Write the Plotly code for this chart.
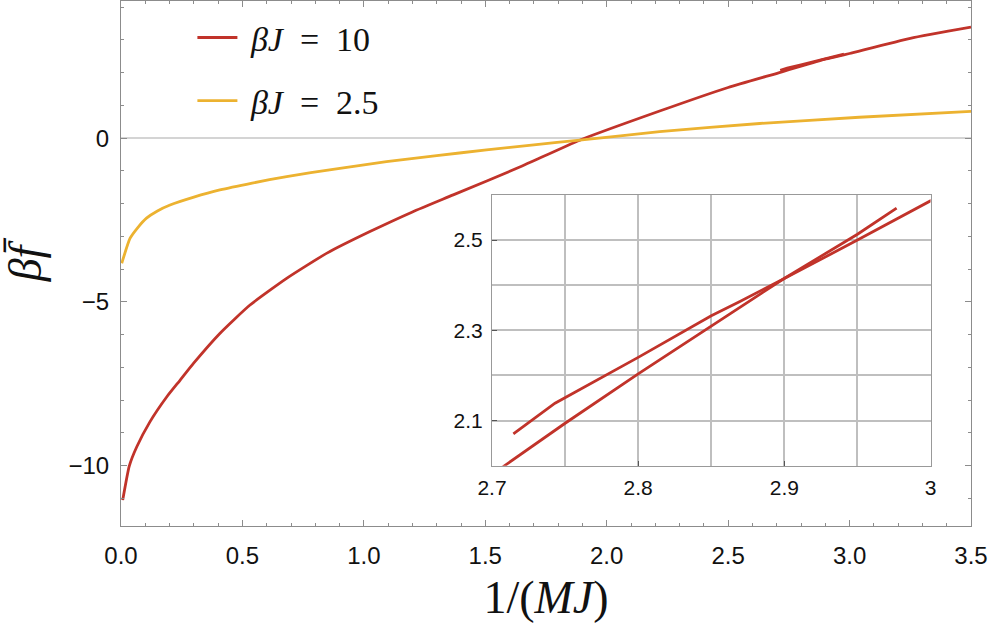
import plotly.graph_objects as go

# ---- data ----
red_x = [0.007, 0.034, 0.065, 0.119, 0.188, 0.243, 0.30, 0.407, 0.53, 0.682, 0.85, 1.025,
         1.2, 1.368, 1.642, 1.889, 2.218, 2.5, 2.7077, 2.75, 2.80, 2.85, 2.8696, 2.8993,
         2.95, 3.0, 3.25, 3.5]
red_y = [-11.05, -10.01, -9.42, -8.66, -7.90, -7.39, -6.86, -5.96, -5.10, -4.28, -3.50, -2.85,
         -2.25, -1.73, -0.88, -0.06, 0.83, 1.55, 1.998, 2.094, 2.2034, 2.310, 2.351, 2.4138,
         2.500, 2.587, 3.05, 3.39]

red_alt_x = [2.7146, 2.7431, 2.80, 2.85, 2.8696, 2.8993, 2.95, 2.9768]
red_alt_y = [2.0706, 2.1385, 2.240, 2.3325, 2.364, 2.4138, 2.513, 2.571]

yel_x = [0.003, 0.037, 0.07, 0.105, 0.15, 0.202, 0.30, 0.407, 0.54, 0.682, 0.88, 1.093,
         1.3, 1.505, 1.70, 1.889, 2.218, 2.63, 3.04, 3.5]
yel_y = [-3.82, -3.06, -2.72, -2.44, -2.22, -2.04, -1.80, -1.58, -1.37, -1.17, -0.94, -0.715,
         -0.53, -0.357, -0.20, -0.06, 0.20, 0.45, 0.64, 0.82]

main_xticks = [0.0, 0.5, 1.0, 1.5, 2.0, 2.5, 3.0, 3.5]
main_yticks = [-10, -5, 0]
inset_xticks = [2.7, 2.8, 2.9, 3.0]
inset_yticks = [2.1, 2.3, 2.5]

RED = "#C1332A"
YEL = "#ECB230"
SERIF = "Liberation Serif, DejaVu Serif, serif"
SANS = "Liberation Sans, Arial, sans-serif"
NB = "\u00a0"

fig = go.Figure()

fig.add_trace(go.Scatter(x=red_x, y=red_y, mode="lines",
                         line=dict(color=RED, width=2.8, shape="spline", smoothing=0.5),
                         name=NB + "<i>βJ</i>" + NB * 2 + "=" + NB * 2 + "10", legendgroup="a",
                         xaxis="x", yaxis="y"))
fig.add_trace(go.Scatter(x=red_alt_x, y=red_alt_y, mode="lines", line=dict(color=RED, width=2.8),
                         showlegend=False, xaxis="x", yaxis="y"))
fig.add_trace(go.Scatter(x=yel_x, y=yel_y, mode="lines",
                         line=dict(color=YEL, width=2.8, shape="spline", smoothing=0.5),
                         name=NB + "<i>βJ</i>" + NB * 2 + "=" + NB * 2 + "2.5", legendgroup="b",
                         xaxis="x", yaxis="y"))

# inset
fig.add_trace(go.Scatter(x=red_x, y=red_y, mode="lines", line=dict(color=RED, width=2.8),
                         showlegend=False, xaxis="x2", yaxis="y2"))
fig.add_trace(go.Scatter(x=red_alt_x, y=red_alt_y, mode="lines", line=dict(color=RED, width=2.8),
                         showlegend=False, xaxis="x2", yaxis="y2"))

AX = "#8c8c8c"
GRID = "#bfbfbf"
fig.update_layout(
    width=990, height=626,
    margin=dict(l=121, r=19, t=1, b=100),
    paper_bgcolor="white", plot_bgcolor="white",
    showlegend=True,
    legend=dict(x=0.084, y=0.985, xanchor="left", yanchor="top",
                font=dict(family=SERIF, size=34, color="#111"),
                bgcolor="rgba(0,0,0,0)", traceorder="grouped", tracegroupgap=16,
                itemwidth=40),
    xaxis=dict(domain=[0, 1], range=[0, 3.5], tickvals=main_xticks, tickformat=".1f",
               showline=True, linecolor=AX, linewidth=1.2, mirror="allticks",
               ticks="inside", ticklen=6, tickcolor=AX, tickwidth=1.2,
               minor=dict(dtick=0.1, tick0=0, ticks="inside", ticklen=3, tickcolor=AX),
               showgrid=False, zeroline=False,
               tickfont=dict(family=SANS, size=24, color="#111"),
               ticklabelstandoff=8,
               title=dict(text="1/(<i>MJ</i>)", font=dict(family=SERIF, size=46, color="#111"),
                          standoff=12)),
    yaxis=dict(domain=[0, 1], range=[-11.84, 4.19], tickvals=main_yticks,
               showline=True, linecolor=AX, linewidth=1.2, mirror="allticks",
               ticks="inside", ticklen=6, tickcolor=AX, tickwidth=1.2,
               minor=dict(dtick=1, tick0=0, ticks="inside", ticklen=3, tickcolor=AX),
               showgrid=False, zeroline=True, zerolinecolor="#d4d4d4", zerolinewidth=1.5,
               tickfont=dict(family=SANS, size=24, color="#111"),
               ticklabelstandoff=6,
               title=dict(text="<i>β</i><i>f̄</i>", font=dict(family=SERIF, size=46, color="#111"),
                          standoff=16)),
    xaxis2=dict(domain=[0.4365, 0.9524], anchor="y2", range=[2.7, 3.0], tickvals=inset_xticks,
                ticktext=["2.7", "2.8", "2.9", "3"],
                showline=True, linecolor="#999", linewidth=1.2, mirror=True,
                ticks="inside", ticklen=5, tickcolor="#555",
                showgrid=True, gridcolor=GRID, gridwidth=1.5,
                minor=dict(dtick=0.05, tick0=2.7, showgrid=True, gridcolor=GRID, gridwidth=1.5),
                zeroline=False,
                tickfont=dict(family=SANS, size=21, color="#111"),
                ticklabelstandoff=3),
    yaxis2=dict(domain=[0.1149, 0.6305], anchor="x2", range=[2.0, 2.6], tickvals=inset_yticks,
                showline=True, linecolor="#999", linewidth=1.2, mirror=True,
                ticks="inside", ticklen=5, tickcolor="#555",
                showgrid=True, gridcolor=GRID, gridwidth=1.5,
                minor=dict(dtick=0.1, tick0=2.0, showgrid=True, gridcolor=GRID, gridwidth=1.5),
                zeroline=False,
                tickfont=dict(family=SANS, size=21, color="#111"),
                ticklabelstandoff=4),
)

fig.write_html("out.html")
